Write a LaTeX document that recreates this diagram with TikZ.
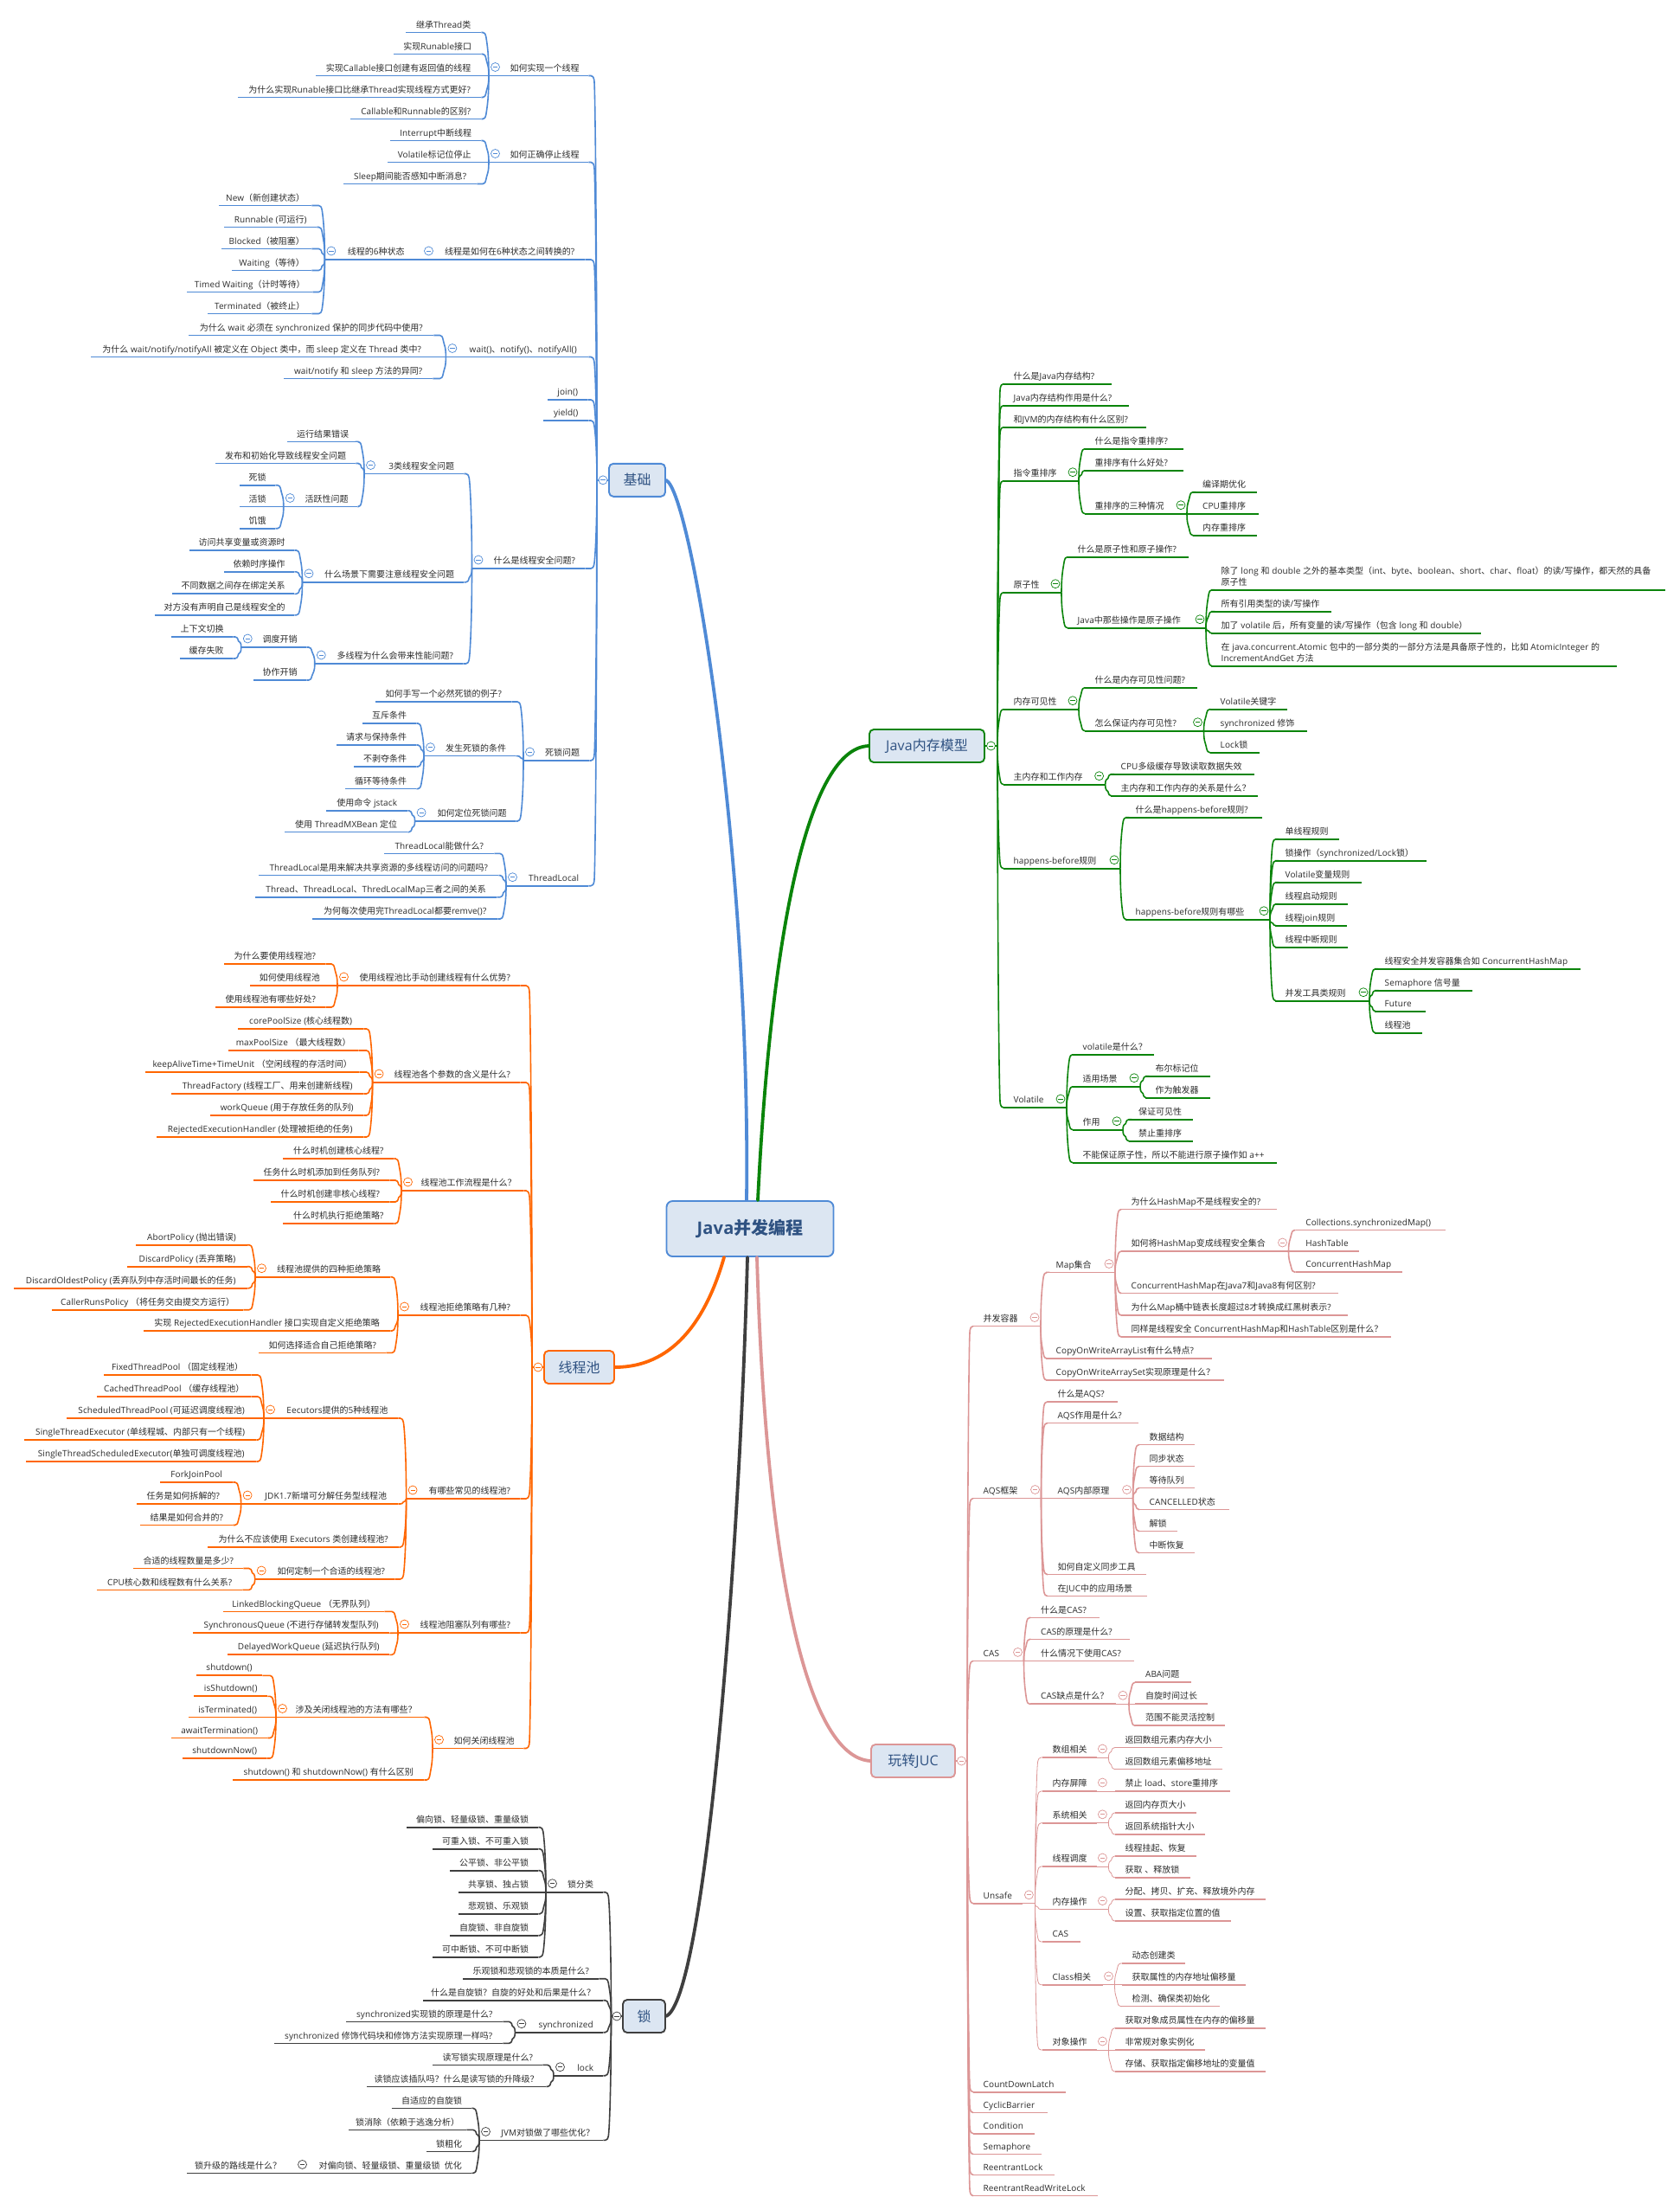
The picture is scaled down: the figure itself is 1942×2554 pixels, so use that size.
\documentclass[tikz,border=0pt]{standalone}
\usepackage{fontspec}
\usetikzlibrary{calc}
\setmainfont{Open Sans}
\newfontfamily\latf[LetterSpace=1]{Open Sans}
\newfontfamily\cjkf{Noto Sans CJK SC}
\XeTeXinterchartokenstate=1
\newcount\mycc
\mycc="4E00 \loop \XeTeXcharclass\mycc=200 \ifnum\mycc<"9FFF \advance\mycc 1 \repeat
\mycc="3000 \loop \XeTeXcharclass\mycc=200 \ifnum\mycc<"303F \advance\mycc 1 \repeat
\mycc="FF00 \loop \XeTeXcharclass\mycc=200 \ifnum\mycc<"FFEF \advance\mycc 1 \repeat
\XeTeXinterchartoks 0 200 = {\cjkf}
\XeTeXinterchartoks 200 0 = {\latf}
\XeTeXinterchartoks 4095 200 = {\cjkf}
\XeTeXinterchartoks 200 4095 = {\latf}
\definecolor{cblue}{HTML}{4F8AD6}
\definecolor{cgreen}{HTML}{0A840A}
\definecolor{corange}{HTML}{FF6600}
\definecolor{cblack}{HTML}{3F3F3F}
\definecolor{cpink}{HTML}{DC9696}
\definecolor{boxfill}{HTML}{DCE6F2}
\definecolor{boxtext}{HTML}{2F5282}
\definecolor{txt}{HTML}{2B2B2B}
\colorlet{cur}{cblue}
\def\spw{1.6}
\tikzset{
  tp/.style={inner xsep=0pt,inner ysep=3pt,text height=10pt,text depth=2.2pt,text=txt,
    font=\fontsize{10}{12}\selectfont\latf},
  ln/.style={line width=1.7pt,draw=cur},
  lj/.style={line width=\spw pt,draw=cur},
  cir/.style={circle,draw=cur,fill=white,minimum size=10pt,inner sep=0pt,line width=.7pt,
    path picture={\draw[draw=cur,line width=.7pt] ([xshift=-2.6pt]path picture bounding box.center) -- ([xshift=2.6pt]path picture bounding box.center);}},
  bx/.style={rectangle,rounded corners=5pt,draw=cur,fill=boxfill,line width=1.9pt,text=boxtext,inner sep=0pt,
    font=\fontsize{16}{18}\selectfont\latf},
  mainc/.style={line width=3.8pt,line cap=round}
}
\newdimen\dpx \newdimen\dpy \newdimen\dcy
\newcommand\EDGE[4]{% parent, child, anchor, dir
  \pgfextractx{\dpx}{\pgfpointanchor{#1-j}{center}}%
  \pgfextracty{\dpy}{\pgfpointanchor{#1-j}{center}}%
  \pgfextracty{\dcy}{\pgfpointanchor{#2}{#3}}%
  \pgfmathsetmacro\epx{\dpx}\pgfmathsetmacro\epy{\dpy}\pgfmathsetmacro\ecy{\dcy}%
  \pgfmathsetmacro\edy{\ecy-\epy}\pgfmathsetmacro\eady{abs(\edy)}%
  \ifdim\eady pt<2pt
    \draw[lj] (#1-j) -- (#2.#3);
  \else
    \pgfmathsetmacro\es{\edy/\eady}%
    \pgfmathsetmacro\eka{min(14,0.5*\eady)}\pgfmathsetmacro\ekb{min(5,0.4*\eady)}%
    \pgfmathsetmacro\ea{\epy+0.5*\edy}%
    \pgfmathsetmacro\eb{\epx+#4*1.8}\pgfmathsetmacro\ec{\ecy-\es*\eka}%
    \pgfmathsetmacro\ee{\epx+#4*3.2}\pgfmathsetmacro\ef{\ecy-\es*\ekb}%
    \pgfmathsetmacro\eg{\epx+#4*4}\pgfmathsetmacro\eh{\ecy-\es*\ekb*0.3}%
    \pgfmathsetmacro\ei{\epx+#4*5}\pgfmathsetmacro\ej{\epx+#4*7}%
    \draw[lj] (#1-j) .. controls (\epx pt,\ea pt) and (\eb pt,\ec pt) .. (\ee pt,\ef pt)
       .. controls (\eg pt,\eh pt) and (\ei pt,\ecy pt) .. (\ej pt,\ecy pt) -- (#2.#3);
  \fi
}
% left-tree topic: parent,name,x1,x2,y,text
\newcommand\LN[6]{%
  \pgfmathsetlengthmacro\nw{(#4)-(#3)}%
  \node[tp,anchor=south west] (#2) at (#3,#5) {\makebox[\nw][c]{#6}};
  \draw[ln] (#2.south west) -- (#2.south east);
  \EDGE{#1}{#2}{south east}{-1}
}
% right-tree topic
\newcommand\RN[6]{%
  \pgfmathsetlengthmacro\nw{(#4)-(#3)}%
  \node[tp,anchor=south west] (#2) at (#3,#5) {\makebox[\nw][l]{\hspace*{11.5pt}#6}};
  \draw[ln] (#2.south west) -- (#2.south east);
  \EDGE{#1}{#2}{south west}{1}
}
\newcommand\JL[2]{%
  \coordinate (#1-j) at (#2,0 |- #1.south);
  \draw[lj] (#1.south west) -- (#1-j);
  \node[cir] (#1-c) at ([shift={(7.5,-10)}]#1-j) {};
}
\newcommand\JR[2]{%
  \coordinate (#1-j) at (#2,0 |- #1.south);
  \draw[lj] (#1.south east) -- (#1-j);
  \node[cir] (#1-c) at ([shift={(-7,-10)}]#1-j) {};
}
\newcommand\TW[2]{\vbox{\baselineskip=13.3pt\lineskiplimit=-20pt\hbox{#1}\hbox{#2}}}
\begin{document}
\begin{tikzpicture}[x=1pt,y=-1pt]
\useasboundingbox (0,0) rectangle (1942,2554);
\fill[white] (0,0) rectangle (1942,2554);
%=========== 基础
\begin{scope}
\colorlet{cur}{cblue}
\node[bx,minimum width=65pt,minimum height=38pt] (b) at (736.5,554.8) {基础};
\coordinate (b-j) at (690,554.8);
\draw[lj] (b.west) -- (b-j);
\node[cir] (b-c) at (697,554.8) {};
\LN{b}{b1}{579}{680}{87.5}{如何实现一个线程}\JL{b1}{565}
\LN{b1}{b11}{469}{556}{37.5}{继承Thread类}
\LN{b1}{b12}{455}{556}{62.5}{实现Runable接口}
\LN{b1}{b13}{365}{556}{87.5}{实现Callable接口创建有返回值的线程}
\LN{b1}{b14}{275}{556}{112.5}{为什么实现Runable接口比继承Thread实现线程方式更好?}
\LN{b1}{b15}{405}{556}{137.5}{Callable和Runnable的区别?}
\LN{b}{b2}{579}{680}{187.5}{如何正确停止线程}\JL{b2}{565}
\LN{b2}{b21}{451}{556}{162.5}{Interrupt中断线程}
\LN{b2}{b22}{448}{556}{187.5}{Volatile标记位停止}
\LN{b2}{b23}{397}{551}{212.5}{Sleep期间能否感知中断消息?}
\LN{b}{b3}{502}{676}{300}{线程是如何在6种状态之间转换的?}\JL{b3}{488}
\LN{b3}{b31}{391}{478}{300}{线程的6种状态}\JL{b31}{375.4}
\LN{b31}{b311}{253}{360}{237.5}{New（新创建状态）}
\LN{b31}{b312}{259}{366}{262.5}{Runnable (可运行)}
\LN{b31}{b313}{256}{360}{287.5}{Blocked（被阻塞）}
\LN{b31}{b314}{268}{360}{312.5}{Waiting（等待）}
\LN{b31}{b315}{216}{361}{337.5}{Timed Waiting（计时等待）}
\LN{b31}{b316}{240}{360}{362.5}{Terminated（被终止）}
\LN{b}{b4}{529}{680}{412.5}{wait()、notify()、notifyAll()}\JL{b4}{515.4}
\LN{b4}{b41}{218}{501}{387.5}{为什么 wait 必须在 synchronized 保护的同步代码中使用?}
\LN{b4}{b42}{105}{500}{412.5}{为什么 wait/notify/notifyAll 被定义在 Object 类中，而 sleep 定义在 Thread 类中?}
\LN{b4}{b43}{328}{500}{437.5}{wait/notify 和 sleep 方法的异同?}
\LN{b}{b5}{633}{679}{462}{join()}
\LN{b}{b6}{628}{680}{486}{yield()}
\LN{b}{b7}{559}{676}{657}{什么是线程安全问题?}\JL{b7}{545.5}
\LN{b7}{b71}{438}{536}{547.5}{3类线程安全问题}\JL{b71}{421}
\LN{b71}{b711}{332}{414}{510.5}{运行结果错误}
\LN{b71}{b712}{249}{411}{535.5}{发布和初始化导致线程安全问题}
\LN{b71}{b713}{342}{413}{585.5}{活跃性问题}\JL{b713}{327.8}
\LN{b713}{b7131}{277}{318}{560.7}{死锁}
\LN{b713}{b7132}{277}{318}{585.5}{活锁}
\LN{b713}{b7133}{277}{318}{610.7}{饥饿}
\LN{b7}{b72}{364}{536}{672.8}{什么场景下需要注意线程安全问题}\JL{b72}{349.5}
\LN{b72}{b721}{219}{340}{636}{访问共享变量或资源时}
\LN{b72}{b722}{259}{340}{660.8}{依赖时序操作}
\LN{b72}{b723}{199}{340}{686.3}{不同数据之间存在绑定关系}
\LN{b72}{b724}{179}{340}{710.8}{对方没有声明自己是线程安全的}
\LN{b7}{b73}{378}{535}{767}{多线程为什么会带来性能问题?}\JL{b73}{363.8}
\LN{b73}{b731}{293}{354}{748}{调度开销}\JL{b731}{278.8}
\LN{b731}{b7311}{198}{269}{736}{上下文切换}
\LN{b731}{b7312}{208}{269}{761}{缓存失败}
\LN{b73}{b732}{293}{354}{786}{协作开销}
\LN{b}{b8}{619}{681}{879}{死锁问题}\JL{b8}{605}
\LN{b8}{b81}{434}{591}{811}{如何手写一个必然死锁的例子?}
\LN{b8}{b82}{504}{596}{873.6}{发生死锁的条件}\JL{b82}{490}
\LN{b82}{b821}{419}{481}{836}{互斥条件}
\LN{b82}{b822}{389}{481}{861}{请求与保持条件}
\LN{b82}{b823}{409}{481}{886}{不剥夺条件}
\LN{b82}{b824}{399}{481}{911.6}{循环等待条件}
\LN{b8}{b83}{495}{596}{949}{如何定位死锁问题}\JL{b83}{479.6}
\LN{b83}{b831}{377}{471}{936.8}{使用命令 jstack}
\LN{b83}{b832}{329}{471}{961.6}{使用 ThreadMXBean 定位}
\LN{b}{b9}{600}{680}{1023.7}{ThreadLocal}\JL{b9}{585}
\LN{b9}{b91}{444}{571}{986.4}{ThreadLocal能做什么?}
\LN{b9}{b92}{299}{576}{1011.6}{ThreadLocal是用来解决共享资源的多线程访问的问题吗?}
\LN{b9}{b93}{295}{574}{1036.8}{Thread、ThreadLocal、ThredLocalMap三者之间的关系}
\LN{b9}{b94}{361}{575}{1062}{为何每次使用完ThreadLocal都要remve()?}
\end{scope}
%=========== 线程池
\begin{scope}
\colorlet{cur}{corange}
\node[bx,minimum width=81pt,minimum height=38pt] (p) at (669.5,1580) {线程池};
\coordinate (p-j) at (615,1580);
\draw[lj] (p.west) -- (p-j);
\node[cir] (p-c) at (622,1580) {};
\LN{p}{p1}{404}{601}{1139}{使用线程池比手动创建线程有什么优势?}\JL{p1}{390}
\LN{p1}{p11}{259}{376}{1114}{为什么要使用线程池?}
\LN{p1}{p12}{289}{380.5}{1139}{如何使用线程池}
\LN{p1}{p13}{249}{376}{1164}{使用线程池有哪些好处?}
\LN{p}{p2}{444}{601}{1251}{线程池各个参数的含义是什么?}\JL{p2}{430.6}
\LN{p2}{p21}{275}{420}{1189}{corePoolSize (核心线程数)}
\LN{p2}{p22}{264}{414}{1214}{maxPoolSize （最大线程数）}
\LN{p2}{p23}{168}{415}{1239}{keepAliveTime+TimeUnit （空闲线程的存活时间）}
\LN{p2}{p24}{198}{420}{1264}{ThreadFactory (线程工厂、用来创建新线程)}
\LN{p2}{p25}{243}{420}{1289}{workQueue (用于存放任务的队列)}
\LN{p2}{p26}{181}{420}{1314}{RejectedExecutionHandler (处理被拒绝的任务)}
\LN{p}{p3}{478}{605}{1376}{线程池工作流程是什么？}\JL{p3}{464}
\LN{p3}{p31}{327}{455}{1339}{什么时机创建核心线程?}
\LN{p3}{p32}{293}{450}{1364}{任务什么时机添加到任务队列?}
\LN{p3}{p33}{313}{450}{1389}{什么时机创建非核心线程?}
\LN{p3}{p34}{327}{455}{1414}{什么时机执行拒绝策略?}
\LN{p}{p4}{474}{601}{1520}{线程池拒绝策略有几种?}\JL{p4}{460}
\LN{p4}{p41}{309}{451}{1475.7}{线程池提供的四种拒绝策略}\JL{p41}{295}
\LN{p41}{p411}{157}{285.5}{1438.7}{AbortPolicy (抛出错误)}
\LN{p41}{p412}{147}{285.5}{1463.7}{DiscardPolicy (丢弃策略)}
\LN{p41}{p413}{16}{286}{1488.7}{DiscardOldestPolicy (丢弃队列中存活时间最长的任务)}
\LN{p41}{p414}{60}{281}{1513.7}{CallerRunsPolicy （将任务交由提交方运行）}
\LN{p4}{p42}{166}{451}{1538}{实现 RejectedExecutionHandler 接口实现自定义拒绝策略}
\LN{p4}{p43}{299}{446}{1563.4}{如何选择适合自己拒绝策略?}
\LN{p}{p5}{484}{601}{1732}{有哪些常见的线程池?}\JL{p5}{469.6}
\LN{p5}{p51}{319.5}{460}{1639}{Eecutors提供的5种线程池}\JL{p51}{305}
\LN{p51}{p511}{120}{290}{1589}{FixedThreadPool （固定线程池）}
\LN{p51}{p512}{112}{290}{1614}{CachedThreadPool （缓存线程池）}
\LN{p51}{p513}{77}{296}{1639}{ScheduledThreadPool (可延迟调度线程池)}
\LN{p51}{p514}{28}{296}{1664}{SingleThreadExecutor (单线程城、内部只有一个线程)}
\LN{p51}{p515}{30}{296}{1689}{SingleThreadScheduledExecutor(单独可调度线程池)}
\LN{p5}{p52}{293}{460}{1738}{JDK1.7新增可分解任务型线程池}\JL{p52}{278.6}
\LN{p52}{p521}{185}{269}{1713}{ForkJoinPool}
\LN{p52}{p522}{158}{265}{1738}{任务是如何拆解的?}
\LN{p52}{p523}{162}{269}{1762.5}{结果是如何合并的?}
\LN{p5}{p53}{240}{461}{1788}{为什么不应该使用 Executors 类创建线程池?}
\LN{p5}{p54}{309}{456}{1825}{如何定制一个合适的线程池?}\JL{p54}{294.7}
\LN{p54}{p541}{154}{281}{1812.5}{合适的线程数量是多少?}
\LN{p54}{p542}{112}{280}{1837.4}{CPU核心数和线程数有什么关系?}
\LN{p}{p6}{474}{601}{1887}{线程池阻塞队列有哪些?}\JL{p6}{460}
\LN{p6}{p61}{258}{444}{1862.4}{LinkedBlockingQueue （无界队列）}
\LN{p6}{p62}{223}{450}{1887.3}{SynchronousQueue (不进行存储转发型队列)}
\LN{p6}{p63}{263}{450}{1912.3}{DelayedWorkQueue (延迟执行队列)}
\LN{p}{p7}{514}{605}{2020.5}{如何关闭线程池}\JL{p7}{500}
\LN{p7}{p71}{333}{490}{1984.5}{涉及关闭线程池的方法有哪些？}\JL{p71}{319}
\LN{p71}{p711}{226.7}{303}{1936.3}{shutdown()}
\LN{p71}{p712}{224}{309}{1960.3}{isShutdown()}
\LN{p71}{p713}{218}{308}{1984.5}{isTerminated()}
\LN{p71}{p714}{198}{309}{2008.5}{awaitTermination()}
\LN{p71}{p715}{211}{308}{2032}{shutdownNow()}
\LN{p7}{p72}{269}{490}{2057}{shutdown() 和 shutdownNow() 有什么区别}
\end{scope}
%=========== 锁
\begin{scope}
\colorlet{cur}{cblack}
\node[bx,minimum width=49pt,minimum height=38pt] (l) at (744.5,2330) {锁};
\coordinate (l-j) at (706.5,2330);
\draw[lj] (l.west) -- (l-j);
\node[cir] (l-c) at (713,2330) {};
\LN{l}{l1}{645}{697}{2186.7}{锁分类}\JL{l1}{631}
\LN{l1}{l11}{470}{622}{2111.7}{偏向锁、轻量级锁、重量级锁}
\LN{l1}{l12}{500}{622}{2136.7}{可重入锁、不可重入锁}
\LN{l1}{l13}{520}{622}{2161.7}{公平锁、非公平锁}
\LN{l1}{l14}{530}{622}{2186.7}{共享锁、独占锁}
\LN{l1}{l15}{530}{622}{2211.7}{悲观锁、乐观锁}
\LN{l1}{l16}{520}{622}{2236.7}{自旋锁、非自旋锁}
\LN{l1}{l17}{500}{622}{2261.7}{可中断锁、不可中断锁}
\LN{l}{l2}{535}{692}{2286.7}{乐观锁和悲观锁的本质是什么?}
\LN{l}{l3}{489}{697}{2311.7}{什么是自旋锁？自旋的好处和后果是什么？}
\LN{l}{l4}{611}{697}{2348.7}{synchronized}\JL{l4}{595.4}
\LN{l4}{l41}{400}{581}{2336.4}{synchronized实现锁的原理是什么?}
\LN{l4}{l42}{317}{581}{2361.4}{synchronized 修饰代码块和修饰方法实现原理一样吗?}
\LN{l}{l6}{656}{697}{2398.7}{lock}\JL{l6}{640}
\LN{l6}{l61}{500}{627}{2386.4}{读写锁实现原理是什么?}
\LN{l6}{l62}{424}{631}{2411.4}{读锁应该插队吗？什么是读写锁的升降级？}
\LN{l}{l5}{569}{697}{2473.4}{JVM对锁做了哪些优化？}\JL{l5}{554}
\LN{l5}{l51}{452.7}{545}{2436.4}{自适应的自旋锁}
\LN{l5}{l52}{403}{539}{2461.4}{锁消除（依赖于逃逸分析）}
\LN{l5}{l53}{493}{545}{2486.4}{锁粗化}
\LN{l5}{l54}{357}{545}{2511.4}{对偏向锁、轻量级锁、重量级锁\ \ 优化}\JL{l54}{342}
\LN{l54}{l541}{216}{333.6}{2511.4}{锁升级的路线是什么？}
\end{scope}
%=========== Java内存模型
\begin{scope}
\colorlet{cur}{cgreen}
\node[bx,minimum width=133pt,minimum height=38pt] (j) at (1071.5,862) {Java内存模型};
\coordinate (j-j) at (1153,862);
\draw[lj] (j.east) -- (j-j);
\node[cir] (j-c) at (1145.5,862) {};
\RN{j}{j1}{1160}{1284.3}{443.7}{什么是Java内存结构?}
\RN{j}{j2}{1160}{1305}{468.7}{Java内存结构作用是什么?}
\RN{j}{j3}{1160}{1325}{493.7}{和JVM的内存结构有什么区别?}
\RN{j}{j4}{1160}{1232}{555.7}{指令重排序}\JR{j4}{1247}
\RN{j4}{j41}{1254}{1368}{518.7}{什么是指令重排序?}
\RN{j4}{j42}{1254}{1368}{543.7}{重排序有什么好处?}
\RN{j4}{j43}{1254}{1357}{593.7}{重排序的三种情况}\JR{j43}{1372}
\RN{j43}{j431}{1378.5}{1453}{568.7}{编译期优化}
\RN{j43}{j432}{1378.5}{1455}{593.7}{CPU重排序}
\RN{j43}{j433}{1378.5}{1453}{618.7}{内存重排序}
\RN{j}{j5}{1160}{1212}{684.7}{原子性}\JR{j5}{1227}
\RN{j5}{j51}{1234}{1374}{643.7}{什么是原子性和原子操作?}
\RN{j5}{j52}{1234}{1379}{725.7}{Java中那些操作是原子操作}\JR{j52}{1394}
\RN{j52}{j521}{1400}{1925}{681.7}{\TW{除了 long 和 double 之外的基本类型（int、byte、boolean、short、char、float）的读/写操作，都天然的具备}{原子性}}
\RN{j52}{j522}{1400}{1539}{706.7}{所有引用类型的读/写操作}
\RN{j52}{j523}{1400}{1712}{731.7}{加了 volatile 后，所有变量的读/写操作（包含 long 和 double）}
\RN{j52}{j524}{1400}{1869}{769.7}{\TW{在 java.concurrent.Atomic 包中的一部分类的一部分方法是具备原子性的，比如 AtomicInteger 的}{IncrementAndGet 方法}}
\RN{j}{j6}{1160}{1232}{819.7}{内存可见性}\JR{j6}{1247}
\RN{j6}{j61}{1254}{1384}{794.7}{什么是内存可见性问题?}
\RN{j6}{j62}{1254}{1372}{844.7}{怎么保证内存可见性?}\JR{j62}{1391.5}
\RN{j62}{j621}{1399}{1488}{819.7}{Volatile关键字}
\RN{j62}{j622}{1399}{1510.6}{844.7}{synchronized 修饰}
\RN{j62}{j623}{1399}{1456}{869.7}{Lock锁}
\RN{j}{j7}{1160}{1262}{906.7}{主内存和工作内存}\JR{j7}{1277.6}
\RN{j7}{j71}{1284}{1450}{894.7}{CPU多级缓存导致读取数据失效}
\RN{j7}{j72}{1284}{1453.6}{919.7}{主内存和工作内存的关系是什么？}
\RN{j}{j8}{1160}{1279}{1003.7}{happens-before规则}\JR{j8}{1295}
\RN{j8}{j81}{1301}{1459}{944.7}{什么是happens-before规则?}
\RN{j8}{j82}{1301}{1452}{1062.7}{happens-before规则有哪些}\JR{j82}{1468}
\RN{j82}{j821}{1474}{1548}{969.7}{单线程规则}
\RN{j82}{j822}{1474}{1649}{994.7}{锁操作（synchronized/Lock锁）}
\RN{j82}{j823}{1474}{1574}{1019.7}{Volatile变量规则}
\RN{j82}{j824}{1474}{1558}{1044.7}{线程启动规则}
\RN{j82}{j825}{1474}{1557}{1069.7}{线程join规则}
\RN{j82}{j826}{1474}{1558}{1094.7}{线程中断规则}
\RN{j82}{j827}{1474}{1568}{1156.7}{并发工具类规则}\JR{j827}{1583}
\RN{j827}{j8271}{1589}{1826.5}{1119.7}{线程安全并发容器集合如 ConcurrentHashMap}
\RN{j827}{j8272}{1589}{1702}{1144.7}{Semaphore 信号量}
\RN{j827}{j8273}{1589}{1648}{1168.7}{Future}
\RN{j827}{j8274}{1589}{1643.7}{1193.7}{线程池}
\RN{j}{j9}{1160}{1218}{1280}{Volatile}\JR{j9}{1233}
\RN{j9}{j91}{1240}{1333.5}{1218.7}{volatile是什么？}
\RN{j9}{j92}{1240}{1303}{1255.7}{适用场景}\JR{j92}{1318}
\RN{j92}{j921}{1324}{1399}{1243.7}{布尔标记位}
\RN{j92}{j922}{1324}{1399}{1268.7}{作为触发器}
\RN{j9}{j93}{1240}{1282}{1305.7}{作用}\JR{j93}{1298}
\RN{j93}{j931}{1304.5}{1379}{1293.7}{保证可见性}
\RN{j93}{j932}{1304.5}{1379}{1318.7}{禁止重排序}
\RN{j9}{j94}{1240}{1476}{1343.7}{不能保证原子性，所以不能进行原子操作如 a++}
\end{scope}
%=========== 玩转JUC
\begin{scope}
\colorlet{cur}{cpink}
\node[bx,minimum width=97pt,minimum height=38pt] (u) at (1055.5,2035) {玩转JUC};
\coordinate (u-j) at (1118,2035);
\draw[lj] (u.east) -- (u-j);
\node[cir] (u-c) at (1111.4,2035) {};
\RN{u}{u1}{1125}{1188}{1532.5}{并发容器}\JR{u1}{1203}
\RN{u1}{u11}{1209}{1274}{1470.5}{Map集合}\JR{u11}{1289}
\RN{u11}{u111}{1296}{1475.6}{1397.6}{为什么HashMap不是线程安全的?}
\RN{u11}{u112}{1296}{1474}{1446}{如何将HashMap变成线程安全集合}\JR{u112}{1489.5}
\RN{u112}{u1121}{1497.7}{1671}{1421.6}{Collections.synchronizedMap()}
\RN{u112}{u1122}{1497.7}{1571}{1446}{HashTable}
\RN{u112}{u1123}{1497.7}{1621}{1470}{ConcurrentHashMap}
\RN{u11}{u113}{1296}{1547}{1494.6}{ConcurrentHashMap在Java7和Java8有何区别?}
\RN{u11}{u114}{1296}{1557.7}{1520}{为什么Map桶中链表长度超过8才转换成红黑树表示?}
\RN{u11}{u115}{1296}{1607.7}{1545}{同样是线程安全 ConcurrentHashMap和HashTable区别是什么？}
\RN{u1}{u12}{1209}{1401}{1570}{CopyOnWriteArrayList有什么特点?}
\RN{u1}{u13}{1209}{1415}{1595}{CopyOnWriteArraySet实现原理是什么？}
\RN{u}{u2}{1125}{1188}{1731.5}{AQS框架}\JR{u2}{1203.5}
\RN{u2}{u21}{1211}{1292}{1620}{什么是AQS?}
\RN{u2}{u22}{1211}{1316}{1644.6}{AQS作用是什么?}
\RN{u2}{u23}{1211}{1295}{1731.5}{AQS内部原理}\JR{u23}{1309.6}
\RN{u23}{u231}{1317}{1381}{1669.6}{数据结构}
\RN{u23}{u232}{1317}{1381}{1694.6}{同步状态}
\RN{u23}{u233}{1317}{1381}{1719.6}{等待队列}
\RN{u23}{u234}{1317}{1421}{1744.5}{CANCELLED状态}
\RN{u23}{u235}{1317}{1361}{1769.5}{解锁}
\RN{u23}{u236}{1317}{1381}{1794.5}{中断恢复}
\RN{u2}{u24}{1211}{1325}{1819.5}{如何自定义同步工具}
\RN{u2}{u25}{1211}{1326}{1844.4}{在JUC中的应用场景}
\RN{u}{u3}{1125}{1168}{1919.4}{CAS}\JR{u3}{1183.5}
\RN{u3}{u31}{1191.4}{1270.6}{1869.4}{什么是CAS?}
\RN{u3}{u32}{1191.4}{1306}{1894.4}{CAS的原理是什么?}
\RN{u3}{u33}{1191.4}{1311}{1919.4}{什么情况下使用CAS?}
\RN{u3}{u34}{1191.4}{1290}{1969.3}{CAS缺点是什么？}\JR{u34}{1305}
\RN{u34}{u341}{1312.4}{1376.7}{1944.3}{ABA问题}
\RN{u34}{u342}{1312.4}{1396}{1969.3}{自旋时间过长}
\RN{u34}{u343}{1312.4}{1416}{1994.3}{范围不能灵活控制}
\RN{u}{u4}{1125}{1182}{2199.8}{Unsafe}
\def\spw{0.8}
\JR{u4}{1196.4}
\RN{u4}{u41}{1205}{1268}{2031}{数组相关}\JR{u41}{1281.4}
\RN{u41}{u411}{1289}{1412.4}{2019.6}{返回数组元素内存大小}
\RN{u41}{u412}{1289}{1412.4}{2044.6}{返回数组元素偏移地址}
\RN{u4}{u42}{1205}{1268}{2070}{内存屏障}\JR{u42}{1281.4}
\RN{u42}{u421}{1289}{1422}{2070}{禁止 load、store重排序}
\RN{u4}{u43}{1205}{1268}{2106.8}{系统相关}\JR{u43}{1281.4}
\RN{u43}{u431}{1289}{1382.7}{2095}{返回内存页大小}
\RN{u43}{u432}{1289}{1392.7}{2120}{返回系统指针大小}
\RN{u4}{u44}{1205}{1268}{2157}{线程调度}\JR{u44}{1281.4}
\RN{u44}{u441}{1289}{1382.7}{2145}{线程挂起、恢复}
\RN{u44}{u442}{1289}{1376}{2169.8}{获取 、释放锁}
\RN{u4}{u45}{1205}{1268}{2206.6}{内存操作}\JR{u45}{1281.4}
\RN{u45}{u451}{1289}{1462.7}{2195}{分配、拷贝、扩充、释放境外内存}
\RN{u45}{u452}{1289}{1422.7}{2220}{设置、获取指定位置的值}
\RN{u4}{u46}{1205}{1249}{2244}{CAS}
\RN{u4}{u47}{1205}{1275}{2293.8}{Class相关}\JR{u47}{1288.5}
\RN{u47}{u471}{1297}{1370}{2269}{动态创建类}
\RN{u47}{u472}{1297}{1440}{2293.8}{获取属性的内存地址偏移量}
\RN{u47}{u473}{1297}{1410}{2318.6}{检测、确保类初始化}
\RN{u4}{u48}{1205}{1268}{2369}{对象操作}\JR{u48}{1281.4}
\RN{u48}{u481}{1289}{1462.7}{2343.8}{获取对象成员属性在内存的偏移量}
\RN{u48}{u482}{1289}{1392.7}{2369}{非常规对象实例化}
\RN{u48}{u483}{1289}{1462.7}{2393.9}{存储、获取指定偏移地址的变量值}
\def\spw{1.6}
\RN{u}{u5}{1125}{1232}{2417.7}{CountDownLatch}
\RN{u}{u6}{1125}{1210.7}{2441.5}{CyclicBarrier}
\RN{u}{u7}{1125}{1195.7}{2465.7}{Condition}
\RN{u}{u8}{1125}{1203.5}{2489.5}{Semaphore}
\RN{u}{u9}{1125}{1218.5}{2513.4}{ReentrantLock}
\RN{u}{u10}{1125}{1268.5}{2537.6}{ReentrantReadWriteLock}
\end{scope}
%=========== 中心
\colorlet{cur}{cblue}
\node[bx,minimum width=193pt,minimum height=64pt,rounded corners=7pt,font=\fontsize{20}{24}\selectfont\bfseries\latf] (c) at (867,1420) {Java并发编程};
\draw[mainc,cblue] (b.east) .. controls (800,570) and (868,1000) .. ([xshift=-4pt]c.north);
\draw[mainc,cgreen] (j.west) .. controls (930,865) and (890,1100) .. ([xshift=9pt]c.north);
\draw[mainc,corange] ([xshift=-30pt]c.south) .. controls (815,1530) and (775,1580) .. (p.east);
\draw[mainc,cblack] ([xshift=-3pt]c.south) .. controls (855,1800) and (815,2310) .. (l.east);
\draw[mainc,cpink] ([xshift=8pt]c.south) .. controls (885,1800) and (930,2030) .. (u.west);
\end{tikzpicture}
\end{document}
